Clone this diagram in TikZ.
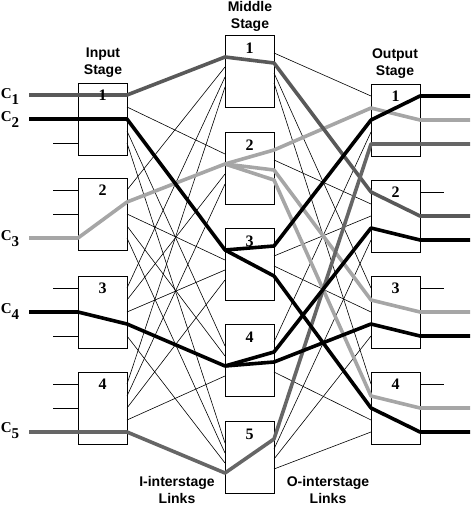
\documentclass[tikz,border=0pt]{standalone}
\usepackage{fontspec}
\setmainfont{Liberation Serif}
\setsansfont{Liberation Sans}
\usepackage{tikz}
\usetikzlibrary{positioning}
\usetikzlibrary{calc}
\pgfdeclarelayer{nodelayer}
\pgfdeclarelayer{edgelayer}
\pgfsetlayers{edgelayer,nodelayer,main}
\colorlet{gone}{black!65}
\colorlet{gthree}{black!35}
\colorlet{gfive}{black!60}
\newcommand{\chanlbl}[1]{C\raisebox{-6pt}{#1}}
\tikzset{switch/.style={draw, line width=.8pt, anchor=north west, minimum width=49pt, minimum height=72pt, inner sep=0pt, outer sep=0pt}}
\tikzset{num/.style={font=\fontsize{16}{16}\selectfont\bfseries, inner sep=0pt}}
\tikzset{stage/.style={font=\fontsize{14}{17}\selectfont\sffamily\bfseries, align=center, inner sep=0pt}}
\tikzset{chan/.style={font=\fontsize{15}{15}\selectfont\bfseries, inner sep=0pt}}
\tikzset{link/.style={line width=.6pt}}
\tikzset{stub/.style={line width=.8pt}}
\tikzset{route/.style={line width=3.6pt, line join=round}}

\begin{document}
\begin{tikzpicture}[x=1pt, y=-1pt]
    \useasboundingbox (0,0) rectangle (474,506);
    \begin{pgfonlayer}{nodelayer}
        % switches
        \foreach \n/\y in {1/83,2/178,3/276,4/372}
            \node[switch] (in\n) at (78,\y) {};
        \foreach \n/\y in {1/35,2/132,3/228,4/324,5/421}
            \node[switch] (m\n) at (225,\y) {};
        \foreach \n/\y in {1/84,2/180,3/276,4/372}
            \node[switch] (out\n) at (371,\y) {};
        % ports
        \foreach \i in {1,...,4} {
            \foreach \j in {1,...,5} {
                \coordinate (in\i-\j) at ($(in\i.north east)+(0,12*\j)$);
                \coordinate (m\j-l\i) at ($(m\j.north west)+(0,12+10*\i)$);
                \coordinate (m\j-r\i) at ($(m\j.north east)+(0,8+10*\i)$);
                \coordinate (out\i-l\j) at ($(out\i.north west)+(0,12*\j)$);
            }
            \foreach \p in {1,2,3} {
                \coordinate (in\i-a\p) at ($(in\i.north west)+(0,{24*\p-12})$);
                \coordinate (out\i-b\p) at ($(out\i.north east)+(0,{24*\p-12})$);
            }
        }
    \end{pgfonlayer}
    \begin{pgfonlayer}{edgelayer}
        % interstage links
        \foreach \i in {1,...,4}
            \foreach \j in {1,...,5} {
                \draw[link] (in\i-\j) to (m\j-l\i);
                \draw[link] (m\j-r\i) to (out\i-l\j);
            }
    \end{pgfonlayer}
    % idle ports
    \foreach \s in {in1-a3,in2-a1,in2-a2,in3-a1,in3-a3,in4-a1,in4-a2} {
        \coordinate (\s-end) at ($(\s)+(-25,0)$);
        \draw[stub] (\s-end) to (\s);
    }
    \foreach \s in {out2-b1,out3-b1,out4-b1} {
        \coordinate (\s-end) at ($(\s)+(24,0)$);
        \draw[stub] (\s) to (\s-end);
    }
    \foreach \s in {in1-a1,in1-a2,in2-a3,in3-a2,in4-a3}
        \coordinate (\s-end) at ($(\s)+(-49,0)$);
    \foreach \s in {out1-b1,out1-b2,out1-b3,out2-b2,out2-b3,out3-b2,out3-b3,out4-b2,out4-b3}
        \coordinate (\s-end) at ($(\s)+(50,0)$);
    % C3
    \draw[route, gthree] (in2-a3-end) -- (in2-a3) -- (in2-2) -- (m2-l2) -- (m2-r1) -- (out1-l2) -- (out1-b2) -- (out1-b2-end);
    \draw[route, gthree] (m2-l2) -- (m2-r3) -- (out3-l2) -- (out3-b2) -- (out3-b2-end);
    \draw[route, gthree] (m2-l2) -- (m2-r4) -- (out4-l2) -- (out4-b2) -- (out4-b2-end);
    % C1
    \draw[route, gone] (in1-a1-end) -- (in1-a1) -- (in1-1) -- (m1-l1) -- (m1-r2) -- (out2-l1) -- (out2-b2) -- (out2-b2-end);
    % C5
    \draw[route, gfive] (in4-a3-end) -- (in4-a3) -- (in4-5) -- (m5-l4) -- (m5-r1) -- (out1-l5) -- (out1-b3) -- (out1-b3-end);
    % C2
    \draw[route] (in1-a2-end) -- (in1-a2) -- (in1-3) -- (m3-l1) -- (m3-r1) -- (out1-l3) -- (out1-b1) -- (out1-b1-end);
    \draw[route] (m3-l1) -- (m3-r4) -- (out4-l3) -- (out4-b3) -- (out4-b3-end);
    % C4
    \draw[route] (in3-a2-end) -- (in3-a2) -- (in3-4) -- (m4-l3) -- (m4-r2) -- (out2-l4) -- (out2-b3) -- (out2-b3-end);
    \draw[route] (m4-l3) -- (m4-r3) -- (out3-l4) -- (out3-b3) -- (out3-b3-end);
    % numbers
    \foreach \n in {1,...,4} {
        \node[num, below=7pt of in\n.north] (in\n-num) {\n};
        \node[num, below=7pt of out\n.north] (out\n-num) {\n};
    }
    \foreach \n in {1,...,5}
        \node[num, below=8pt of m\n.north] (m\n-num) {\n};
    % labels
    \node[stage] (instage) at (103,63) {Input\\Stage};
    \node[stage] (midstage) at (250,16) {Middle\\Stage};
    \node[stage] (outstage) at (395,64) {Output\\Stage};
    \node[stage] (ilinks) at (177,490) {I-interstage\\Links};
    \node[stage] (olinks) at (328,490) {O-interstage\\Links};
    \foreach \c/\y in {1/97,2/120,3/239,4/312,5/431}
        \node[chan] (lc\c) at (10,\y) {\chanlbl{\c}};
\end{tikzpicture}
\end{document}
